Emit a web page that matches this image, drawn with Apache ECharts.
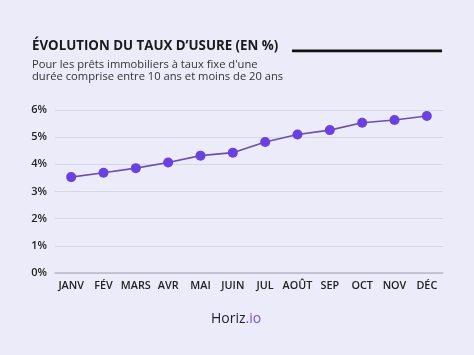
<!DOCTYPE html>
<html><head><meta charset="utf-8">
<script src="https://cdn.jsdelivr.net/npm/echarts@6/dist/echarts.min.js"></script>
<style>html,body{margin:0;padding:0;background:#ECEBFA;}#c{width:474px;height:355px;}</style>
</head><body><div id="c"></div>
<script>
const categories = ['JANV','FÉV','MARS','AVR','MAI','JUIN','JUL','AOÛT','SEP','OCT','NOV','DÉC'];
const values = [3.53, 3.69, 3.86, 4.07, 4.32, 4.43, 4.82, 5.10, 5.26, 5.53, 5.63, 5.78];
const yTicks = [0,1,2,3,4,5,6];
const chart = echarts.init(document.getElementById('c'));
chart.setOption({
  backgroundColor: '#ECEBFA',
  animation: false,
  grid: {left: 55, right: 31, top: 110, bottom: 82},
  graphic: [
    {type:'text', left: 32, top: 39.5, style:{text:'ÉVOLUTION DU TAUX D’USURE (EN %)', font:'bold 13.3px "Open Sans"', fill:'#1a1a1a'}},
    {type:'rect', shape:{x:292, y:49.5, width:150, height:2.8}, style:{fill:'#111'}},
    {type:'text', left: 32, top: 58.5, style:{text:"Pour les prêts immobiliers à taux fixe d'une\ndurée comprise entre 10 ans et moins de 20 ans", font:'11.2px "Open Sans"', lineHeight:12, fill:'#333'}},
    {type:'text', left: 211, top: 312, style:{text:'{a|Horiz}{b|.io}', rich:{a:{font:'14px "Open Sans"', fill:'#1e1e2e'}, b:{font:'14px "Open Sans"', fill:'#7a52c4'}}}}
  ],
  xAxis: {
    type:'category', data: categories, boundaryGap: true,
    axisLine:{show:true, lineStyle:{color:'#b9b9c9', width:1.5}},
    axisTick:{show:false},
    axisLabel:{interval:0, color:'#222', fontFamily:'Open Sans', fontSize:10.8, fontWeight:600, margin:7}
  },
  yAxis: {
    type:'value', min: yTicks[0], max: yTicks[yTicks.length-1], interval:1,
    axisLine:{show:false}, axisTick:{show:false},
    axisLabel:{formatter:'{value}%', color:'#222', fontFamily:'Open Sans', fontSize:11, fontWeight:600, margin:8},
    splitLine:{lineStyle:{color:'#d6d6e4', width:1}}
  },
  series: [{
    type:'line', data: values, symbol:'circle', symbolSize:10,
    lineStyle:{color:'#6a4fb0', width:1.6},
    itemStyle:{color:'#6b40e0'}
  }]
});
</script></body></html>
